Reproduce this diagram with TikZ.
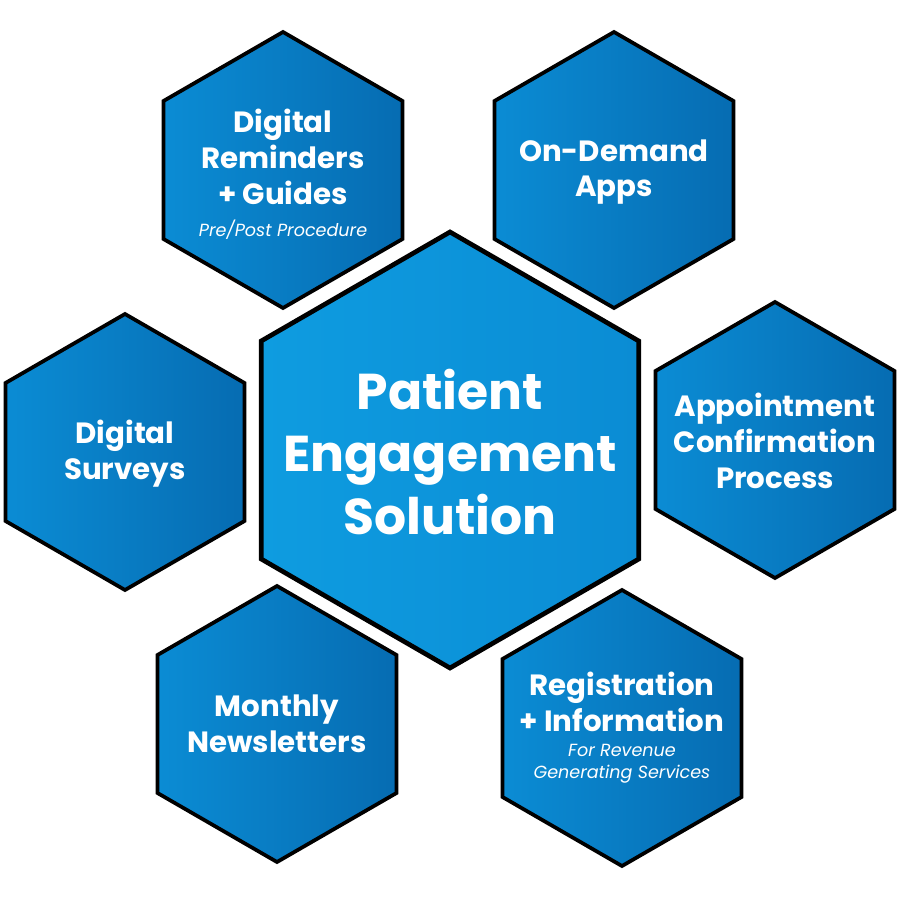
\documentclass[tikz,border=0pt]{standalone}
\usepackage{fontspec}
\setmainfont{Poppins}
\usetikzlibrary{shapes.geometric}
\definecolor{bl}{HTML}{0B8CD4}
\definecolor{bd}{HTML}{066CB2}
\definecolor{bc}{HTML}{0E9CE0}
\begin{document}
\begin{tikzpicture}[x=0.03cm,y=-0.03cm,
 hex/.style={regular polygon,regular polygon sides=6,shape border rotate=30,inner sep=0pt,
   draw=black,line width=3.2pt,minimum size=#1*0.06cm,shading angle=135,left color=bl,right color=bd},
 t/.style={text=white,font=\fontsize{25}{30.5}\selectfont\bfseries,align=center},
 it/.style={text=white,font=\fontsize{15}{19}\selectfont\itshape,align=center}]
\useasboundingbox (0,0) rectangle (900,900);
\node[hex=138] (a) at (283,170) {};
\node[t] (at) at (283,157) {Digital\\Reminders\\+ Guides};
\node[it] (ai) at (283,230) {Pre/Post Procedure};
\node[hex=138] (b) at (614,170) {};
\node[t] (bt) at (614,172) {On-Demand\\Apps};
\node[hex=138] (c) at (775,440) {};
\node[t] (ct) at (775,441) {Appointment\\Confirmation\\Process};
\node[hex=138] (d) at (622,728) {};
\node[t] (dt) at (622,702) {Registration\\+ Information};
\node[it] (di) at (622,764) {For Revenue\\Generating Services};
\node[hex=138] (e) at (277,724) {};
\node[t] (et) at (277,724) {Monthly\\Newsletters};
\node[hex=138] (f) at (125,452) {};
\node[t] (ft) at (125,454) {Digital\\Surveys};
\node[hex=218,left color=bc,right color=bl,line width=4pt] (m) at (450,450) {};
\node[text=white,font=\fontsize{43}{53}\selectfont\bfseries,align=center] (mt) at (450,452) {Patient\\Engagement\\Solution};
\end{tikzpicture}
\end{document}
